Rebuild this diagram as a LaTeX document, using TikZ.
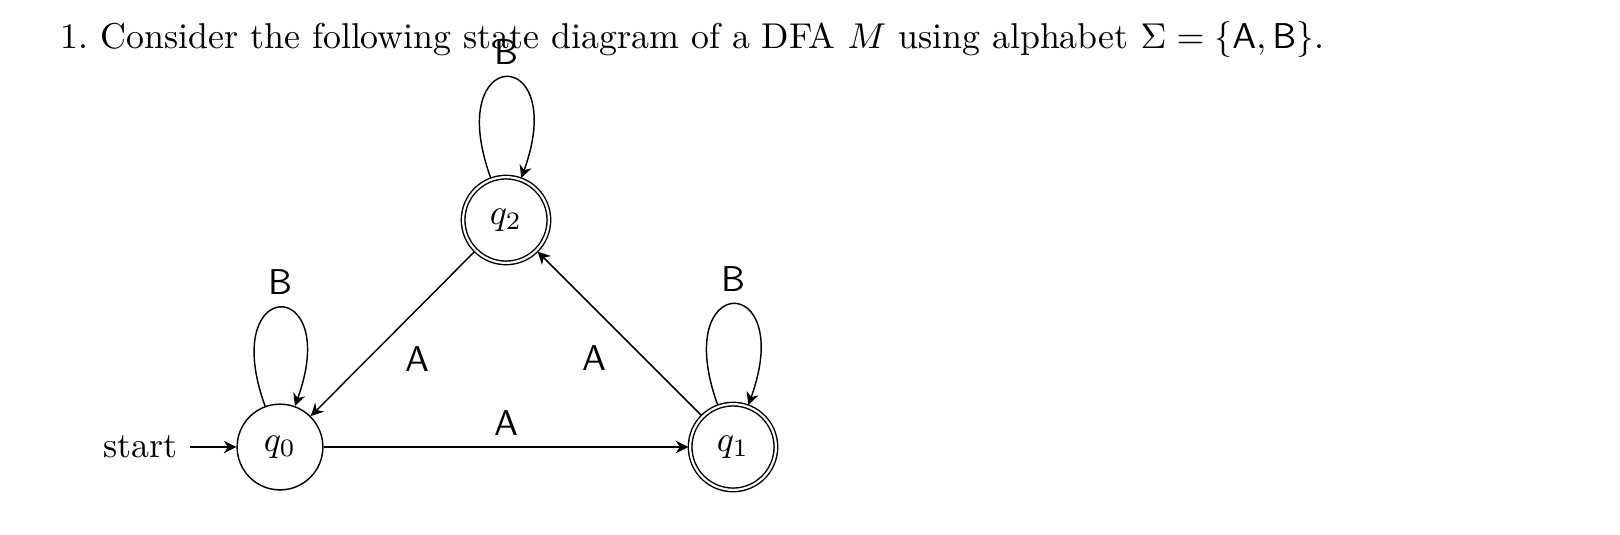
\documentclass[tikz,border=0pt]{standalone}
\usetikzlibrary{automata,arrows.meta}
\begin{document}
\begin{tikzpicture}[x=0.0098cm,y=-0.0098cm,
  st/.style={state,minimum size=0.84cm,inner sep=0pt},
  lbl/.style={font=\sffamily,anchor=center},
  >={Stealth[length=3.5pt,width=3.5pt]},
  selfloop/.style={out=110,in=70,looseness=12,min distance=0.5cm}]
\useasboundingbox (0,0) rectangle (1620,534);
\node[anchor=base west] (title) at (48,48) {1.\ Consider the following state diagram of a DFA $M$ using alphabet $\Sigma=\{\mathsf{A},\mathsf{B}\}$.};
\node[st,initial,initial text={start},initial distance=0.45cm] (q0) at (280,447) {$q_0$};
\node[st,accepting] (q1) at (733,447) {$q_1$};
\node[st,accepting] (q2) at (506,220) {$q_2$};
\path[->] (q0) edge[selfloop] node[lbl,yshift=0.25cm] {B} (q0)
      (q1) edge[selfloop] node[lbl,yshift=0.25cm] {B} (q1)
      (q2) edge[selfloop] node[lbl,yshift=0.25cm] {B} (q2)
      (q0) edge node[lbl,yshift=0.23cm] {A} (q1)
      (q2) edge node[lbl,xshift=0.245cm,yshift=-0.245cm] {A} (q0)
      (q1) edge node[lbl,xshift=-0.245cm,yshift=-0.245cm] {A} (q2);
\end{tikzpicture}
\end{document}
